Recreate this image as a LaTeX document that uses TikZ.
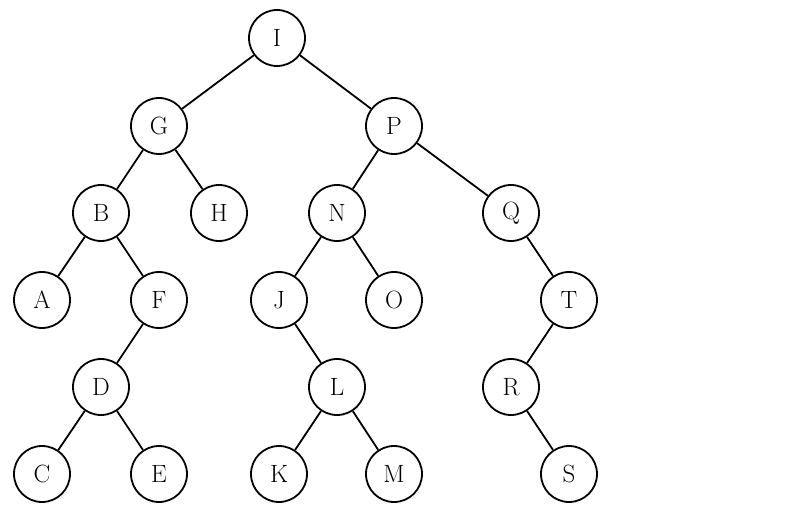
\documentclass[tikz,border=0pt]{standalone}
\begin{document}
\begin{tikzpicture}[x=1pt,y=-1pt,
  tn/.style={circle,draw,line width=1.8pt,minimum size=56pt,inner sep=0pt,fill=white,font=\fontsize{25}{30}\selectfont},
  ed/.style={line width=1.8pt}]
\useasboundingbox (0,0) rectangle (807,516);
\foreach \n/\x/\y in {I/277/38,G/159/126,P/394/126,B/101/213,H/219/213,N/337/213,Q/511/213,A/42/300,F/159/300,J/279/300,O/394/300,T/569/300,D/101/387,L/337/387,R/511/387,C/42/474,E/159/474,K/279/474,M/394/474,S/569/474}
  \node[tn] (\n) at (\x,\y) {\n};
\foreach \a/\b in {I/G,I/P,G/B,G/H,P/N,P/Q,B/A,B/F,F/D,D/C,D/E,N/J,N/O,J/L,L/K,L/M,Q/T,T/R,R/S}
  \draw[ed] (\a) -- (\b);
\end{tikzpicture}
\end{document}
